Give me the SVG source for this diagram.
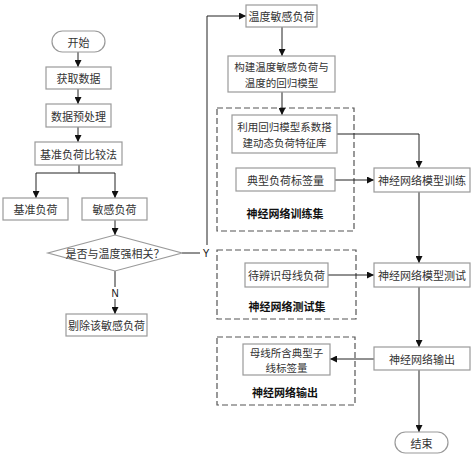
<svg xmlns="http://www.w3.org/2000/svg" width="474" height="457" viewBox="0 0 474 457">
<defs>
<marker id="ah" viewBox="0 0 10 10" refX="10" refY="5" markerWidth="7" markerHeight="7" markerUnits="userSpaceOnUse" orient="auto">
<path d="M0,0 L10,5 L0,10 z" fill="#111"/>
</marker>
<style>
.box{fill:#fff;stroke:#9a9a9a;stroke-width:1.2}
.t{font-family:"Noto Sans CJK SC","Liberation Serif",serif;font-size:11px;fill:#333;text-anchor:middle;dominant-baseline:central}
.t2{font-size:10.5px}
.lb{font-family:"Noto Sans CJK SC","Liberation Sans",sans-serif;font-size:11px;font-weight:bold;fill:#111;text-anchor:middle;dominant-baseline:central}
.yn{font-family:"Liberation Sans",Arial,sans-serif;font-size:10px;fill:#111;text-anchor:middle;dominant-baseline:central}
.dash{fill:none;stroke:#555;stroke-width:1.2;stroke-dasharray:6,3}
.c{fill:none;stroke:#222;stroke-width:1}
.a{marker-end:url(#ah)}
</style>
</defs>
<rect width="474" height="457" fill="#fff"/>

<g id="groups">
<rect id="train-set" class="dash" x="217" y="108" width="137" height="123"/>
<rect id="test-set" class="dash" x="217" y="250" width="139" height="69"/>
<rect id="output-set" class="dash" x="217" y="337" width="138" height="68"/>
<text class="lb" x="285" y="213">神经网络训练集</text>
<text class="lb" x="287" y="306">神经网络测试集</text>
<text class="lb" x="285" y="392">神经网络输出</text>
</g>

<g id="connectors">
<path class="c a" d="M78,52 V67"/>
<path class="c a" d="M78,89 V104"/>
<path class="c a" d="M78,127 V142"/>
<path class="c" d="M79,165 V173 M36,173 H115"/>
<path class="c a" d="M36,173 V198"/>
<path class="c a" d="M115,173 V198"/>
<path class="c a" d="M115,220 V235"/>
<path class="c" d="M182,253 H200"/>
<path class="c a" d="M207,245 V16 H246"/>
<path class="c" d="M115,271 V287"/>
<path class="c a" d="M115,299 V314"/>
<path class="c a" d="M282,27 V56"/>
<path class="c a" d="M282,92 V115"/>
<path class="c a" d="M337,134 H419 V168"/>
<path class="c a" d="M335,180 H374"/>
<path class="c a" d="M419,192 V263"/>
<path class="c a" d="M328,275 H374"/>
<path class="c a" d="M419,287 V347"/>
<path class="c a" d="M374,359 H330"/>
<path class="c a" d="M419,370 V432"/>
<text class="yn" x="206" y="253">Y</text>
<text class="yn" x="115" y="293">N</text>
</g>

<g id="start">
<rect class="box" x="52" y="31" width="53" height="21" rx="10.5"/>
<text class="t" x="78.5" y="41.5">开始</text>
</g>
<g id="acquire">
<rect class="box" x="46" y="67" width="65" height="22"/>
<text class="t" x="78.5" y="78">获取数据</text>
</g>
<g id="preprocess">
<rect class="box" x="46" y="104" width="65" height="23"/>
<text class="t" x="78.5" y="115.5">数据预处理</text>
</g>
<g id="compare">
<rect class="box" x="35" y="142" width="87" height="23"/>
<text class="t" x="78.5" y="153.5">基准负荷比较法</text>
</g>
<g id="base-load">
<rect class="box" x="3" y="198" width="65" height="22"/>
<text class="t" x="35.5" y="209">基准负荷</text>
</g>
<g id="sensitive-load">
<rect class="box" x="82" y="198" width="65" height="22"/>
<text class="t" x="114.5" y="209">敏感负荷</text>
</g>
<g id="decision">
<polygon class="box" points="115,235 182,253 115,271 48,253"/>
<text class="t" x="115" y="253">是否与温度强相关？</text>
</g>
<g id="remove">
<rect class="box" x="66" y="314" width="81" height="22"/>
<text class="t" x="106.5" y="325">剔除该敏感负荷</text>
</g>
<g id="temp-sensitive">
<rect class="box" x="246" y="5" width="71" height="22"/>
<text class="t" x="281.5" y="16">温度敏感负荷</text>
</g>
<g id="regression">
<rect class="box" x="228" y="56" width="107" height="36"/>
<text class="t t2" x="281.5" y="66">构建温度敏感负荷与</text>
<text class="t t2" x="281.5" y="82">温度的回归模型</text>
</g>
<g id="feature-lib">
<rect class="box" x="232" y="115" width="105" height="38"/>
<text class="t t2" x="284.5" y="126.5">利用回归模型系数搭</text>
<text class="t t2" x="284.5" y="142.5">建动态负荷特征库</text>
</g>
<g id="typical-label">
<rect class="box" x="236" y="168" width="99" height="23"/>
<text class="t" x="285.5" y="179.5">典型负荷标签量</text>
</g>
<g id="nn-train">
<rect class="box" x="374" y="168" width="96" height="24"/>
<text class="t" x="422" y="180">神经网络模型训练</text>
</g>
<g id="bus-load">
<rect class="box" x="245" y="263" width="83" height="24"/>
<text class="t" x="286.5" y="275">待辨识母线负荷</text>
</g>
<g id="nn-test">
<rect class="box" x="374" y="263" width="96" height="24"/>
<text class="t" x="422" y="275">神经网络模型测试</text>
</g>
<g id="sub-label">
<rect class="box" x="243" y="344" width="87" height="31"/>
<text class="t t2" x="286.5" y="352">母线所含典型子</text>
<text class="t t2" x="286.5" y="367">线标签量</text>
</g>
<g id="nn-output">
<rect class="box" x="374" y="347" width="96" height="23"/>
<text class="t" x="422" y="358.5">神经网络输出</text>
</g>
<g id="end">
<rect class="box" x="395" y="432" width="53" height="21" rx="10.5"/>
<text class="t" x="421.5" y="442.5">结束</text>
</g>
</svg>
